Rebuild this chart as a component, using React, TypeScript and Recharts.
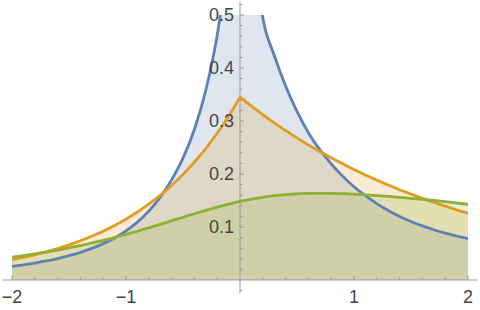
import React from 'react';
import { ComposedChart, Area, Line, XAxis, YAxis, ReferenceLine } from 'recharts';

// x sampling points (denser around the cusp at 0)
const xValues = [
  -2.0, -1.9, -1.8, -1.7, -1.6, -1.5, -1.4, -1.3, -1.2, -1.1, -1.0, -0.9, -0.8, -0.7, -0.6, -0.5, -0.4, -0.3, -0.2,
  -0.15, -0.1, -0.05, 0, 0.05, 0.1, 0.15,
  0.2, 0.3, 0.4, 0.5, 0.6, 0.7, 0.8, 0.9, 1.0, 1.1, 1.2, 1.3, 1.4, 1.5, 1.6, 1.7, 1.8, 1.9, 2.0,
];

// blue curve, blows up at 0 (clipped at the top of the plot)
const blueValues = [
  0.0255, 0.0285, 0.0319, 0.0359, 0.0405, 0.0459, 0.0522, 0.0596, 0.0686, 0.0794, 0.0927, 0.1092, 0.13, 0.156, 0.189, 0.23, 0.284, 0.358, 0.462,
  0.535, 0.64, 0.82, 3.0, 0.88, 0.68, 0.57,
  0.495, 0.424, 0.366, 0.318, 0.278, 0.246, 0.219, 0.196, 0.176, 0.159, 0.144, 0.131, 0.12, 0.1105, 0.102, 0.0948, 0.0885, 0.083, 0.078,
];

// orange curve, sharp peak at 0
const orangeValues = [
  0.0382, 0.0427, 0.0476, 0.0532, 0.0593, 0.0662, 0.074, 0.0826, 0.0921, 0.1029, 0.1148, 0.1282, 0.1431, 0.1597, 0.1783, 0.199, 0.2222, 0.248, 0.2769,
  0.2925, 0.3091, 0.3265, 0.345, 0.3364, 0.328, 0.3199,
  0.3119, 0.2966, 0.282, 0.2681, 0.255, 0.2424, 0.2305, 0.2192, 0.2084, 0.1982, 0.1884, 0.1792, 0.1704, 0.162, 0.154, 0.1464, 0.1393, 0.1324, 0.1259,
];

// green curve, smooth
const greenValues = [
  0.043, 0.046, 0.0493, 0.0527, 0.0565, 0.0606, 0.065, 0.0698, 0.0748, 0.0802, 0.086, 0.092, 0.0984, 0.105, 0.1117, 0.1184, 0.125, 0.1313, 0.1374,
  0.1403, 0.143, 0.1457, 0.1482, 0.1504, 0.1525, 0.1544,
  0.1561, 0.159, 0.1611, 0.1625, 0.1633, 0.1636, 0.1634, 0.1628, 0.1619, 0.1607, 0.1593, 0.1577, 0.156, 0.1542, 0.1522, 0.15, 0.1477, 0.1453, 0.1428,
];

const xLabelTicks = [-2, -1, 1, 2];
const xMinorTicks = [-2, -1.8, -1.6, -1.4, -1.2, -1, -0.8, -0.6, -0.4, -0.2, 0.2, 0.4, 0.6, 0.8, 1, 1.2, 1.4, 1.6, 1.8, 2];
const yLabelTicks = [0.1, 0.2, 0.3, 0.4, 0.5];
const yMinorTicks = [
  -0.02, 0.02, 0.04, 0.06, 0.08, 0.12, 0.14, 0.16, 0.18, 0.22, 0.24, 0.26, 0.28,
  0.32, 0.34, 0.36, 0.38, 0.42, 0.44, 0.46, 0.48, 0.52,
];

const BLUE = '#5E81B5';
const ORANGE = '#E19C24';
const GREEN = '#8FB032';
const AXIS = '#999999';
const FONT = '"Liberation Sans", Arial, sans-serif';

const data = xValues.map((x, i) => ({
  x,
  blue: blueValues[i],
  orange: orangeValues[i],
  green: greenValues[i],
}));

const fmt = (v: number) => String(v).replace('-', '\u2212');

export default function App() {
  return (
    <div style={{ position: 'absolute', left: 0, top: 0, width: 480, height: 310, background: '#fff' }}>
      <ComposedChart width={480} height={310} data={data} margin={{ top: 15, right: 12, left: 12, bottom: 0 }}>
        <XAxis
          dataKey="x"
          type="number"
          domain={[-2, 2]}
          ticks={xLabelTicks}
          allowDataOverflow
          height={30}
          axisLine={false}
          tickLine={false}
          tickSize={0}
          tickMargin={10}
          tickFormatter={fmt}
          tick={{ fontSize: 18, fill: '#444', fontFamily: FONT }}
        />
        <YAxis hide type="number" domain={[0, 0.5]} allowDataOverflow />

        {/* fills under each curve */}
        <Area type="monotone" dataKey="blue" stroke="none" fill={BLUE} fillOpacity={0.2} isAnimationActive={false} />
        <Area type="linear" dataKey="orange" stroke="none" fill={ORANGE} fillOpacity={0.2} isAnimationActive={false} />
        <Area type="monotone" dataKey="green" stroke="none" fill={GREEN} fillOpacity={0.2} isAnimationActive={false} />

        {/* axes through the origin */}
        <ReferenceLine segment={[{ x: -2.08, y: 0 }, { x: 2.08, y: 0 }]} stroke={AXIS} ifOverflow="visible" />
        <ReferenceLine segment={[{ x: 0, y: -0.025 }, { x: 0, y: 0.525 }]} stroke={AXIS} ifOverflow="visible" />

        {xMinorTicks.map((t) => (
          <ReferenceLine
            key={'xt' + t}
            segment={[{ x: t, y: 0 }, { x: t, y: xLabelTicks.includes(t) ? 0.008 : 0.005 }]}
            stroke={AXIS}
            ifOverflow="visible"
          />
        ))}
        {yMinorTicks.map((t) => (
          <ReferenceLine
            key={'ym' + t}
            segment={[{ x: 0, y: t }, { x: 0.022, y: t }]}
            stroke={AXIS}
            ifOverflow="visible"
          />
        ))}
        {yLabelTicks.map((t) => (
          <ReferenceLine
            key={'yl' + t}
            segment={[{ x: 0, y: t }, { x: 0.035, y: t }]}
            stroke={AXIS}
            ifOverflow="visible"
            label={{ value: String(t), position: 'left', offset: 6, fontSize: 18, fill: '#444', fontFamily: FONT }}
          />
        ))}

        <Line type="monotone" dataKey="blue" stroke={BLUE} strokeWidth={2.8} dot={false} isAnimationActive={false} />
        <Line type="linear" dataKey="orange" stroke={ORANGE} strokeWidth={2.8} dot={false} isAnimationActive={false} />
        <Line type="monotone" dataKey="green" stroke={GREEN} strokeWidth={2.8} dot={false} isAnimationActive={false} />
      </ComposedChart>
    </div>
  );
}
